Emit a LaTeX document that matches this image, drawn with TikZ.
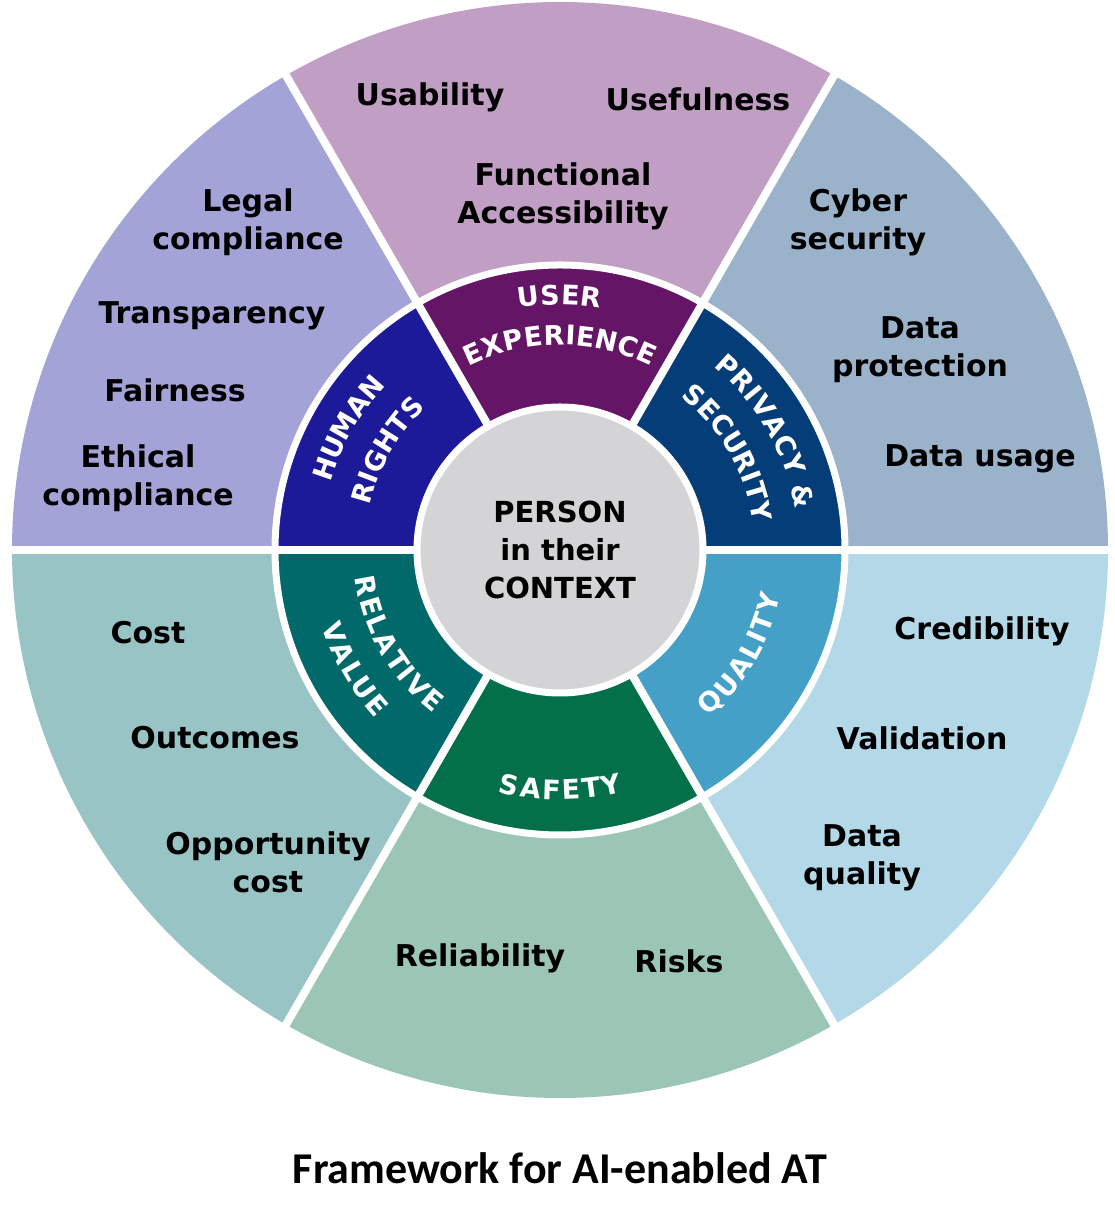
\documentclass[tikz,border=0pt]{standalone}
\usepackage{fontspec}
\setmainfont{DejaVu Sans}
\newfontfamily\titlefont{Carlito}
\usetikzlibrary{calc}
\definecolor{hrO}{HTML}{A3A3D8}\definecolor{hrI}{HTML}{1C1A99}
\definecolor{uxO}{HTML}{C19FC4}\definecolor{uxI}{HTML}{641566}
\definecolor{psO}{HTML}{9AB3CA}\definecolor{psI}{HTML}{053D78}
\definecolor{quO}{HTML}{B3D8E8}\definecolor{quI}{HTML}{45A0C8}
\definecolor{saO}{HTML}{9BC5B5}\definecolor{saI}{HTML}{03704A}
\definecolor{rvO}{HTML}{98C4C5}\definecolor{rvI}{HTML}{02696B}
\definecolor{ctr}{HTML}{D4D4D6}
\tikzset{olab/.style={font=\fontsize{30}{38}\selectfont\bfseries,align=center,text=black,inner sep=0pt},
 ilab/.style={font=\fontsize{27}{27}\selectfont\bfseries,text=white,inner sep=0pt,anchor=center}}
% #1 radius, #2 mid angle, #3 = 1 (tops outward) or -1 (tops inward), #4 list ch/width
\newcommand{\arcword}[4]{%
  \xdef\tot{0}%
  \foreach \ch/\w in {#4}{\pgfmathsetmacro{\t}{\tot+\w}\xdef\tot{\t}}%
  \xdef\acc{0}%
  \foreach \ch/\w in {#4}{%
    \pgfmathsetmacro{\pos}{\acc+\w/2-\tot/2}%
    \pgfmathsetmacro{\ang}{#2-#3*\pos/#1*180/pi}%
    \pgfmathsetmacro{\rot}{\ang-#3*90}%
    \node[ilab,rotate=\rot] at ($(C)+(\ang:#1)$) {\ch};
    \pgfmathsetmacro{\t}{\acc+\w}\xdef\acc{\t}%
  }}
\begin{document}
\begin{tikzpicture}[x=1pt,y=1pt]
\useasboundingbox (0,0) rectangle (1114,1206);
\coordinate (C) at (560,656);
\foreach \a/\oc/\ic in {0/psO/psI,60/uxO/uxI,120/hrO/hrI,180/rvO/rvI,240/saO/saI,300/quO/quI}{
  \fill[\oc] (C) -- ++(\a:548) arc (\a:\a+60:548) -- cycle;
  \fill[\ic] (C) -- ++(\a:285) arc (\a:\a+60:285) -- cycle;
}
\draw[white,line width=7] (C) circle (285);
\foreach \a in {0,60,...,300}{\draw[white,line width=8] (C) -- ++(\a:560);}
\node[circle,fill=ctr,draw=white,line width=7,minimum size=286,inner sep=0pt,
  font=\fontsize{29}{38}\selectfont\bfseries,align=center] (center) at (C) {PERSON\\in their\\CONTEXT};
% inner curved labels
\arcword{255}{90}{1}{U/22,S/21,E/20,R/22}
\arcword{215}{90}{1}{E/20,X/22,P/21,E/20,R/22,I/11,E/20,N/23,C/21,E/20}
\arcword{249}{150}{1}{H/23,U/22,M/26,A/23,N/23}
\arcword{205}{150}{1}{R/22,I/11,G/23,H/23,T/20,S/21}
\arcword{249}{30}{1}{P/21,R/22,I/11,V/22,A/23,C/21,Y/21,{}/10,\&/24}
\arcword{205}{30}{1}{S/21,E/20,C/21,U/22,R/22,I/11,T/20,Y/21}
\arcword{215}{-30}{-1}{Q/24,U/22,A/23,L/18,I/11,T/20,Y/21}
\arcword{240}{-90}{-1}{S/21,A/23,F/19,E/20,T/20,Y/21}
\arcword{197}{210}{-1}{R/22,E/20,L/18,A/23,T/20,I/11,V/22,E/20}
\arcword{240}{210}{-1}{V/22,A/23,L/18,U/22,E/20}
% outer labels
\node[olab] (usab) at (430,1109) {Usability};
\node[olab] (usef) at (698,1107) {Usefulness};
\node[olab] (func) at (563,1010) {Functional\\Accessibility};
\node[olab] (legal) at (248,984) {Legal\\compliance};
\node[olab] (trans) at (212,890) {Transparency};
\node[olab] (fair) at (175,816) {Fairness};
\node[olab] (eth) at (138,728) {Ethical\\compliance};
\node[olab] (cyber) at (858,984) {Cyber\\security};
\node[olab] (dprot) at (920,856) {Data\\protection};
\node[olab] (dusage) at (980,747) {Data usage};
\node[olab] (cost) at (148,573) {Cost};
\node[olab] (outc) at (215,468) {Outcomes};
\node[olab] (opp) at (268,344) {Opportunity\\cost};
\node[olab] (cred) at (982,575) {Credibility};
\node[olab] (valid) at (922,468) {Validation};
\node[olab] (dqual) at (862,348) {Data\\quality};
\node[olab] (rel) at (480,248) {Reliability};
\node[olab] (risk) at (679,245) {Risks};
\node[font=\titlefont\fontsize{44}{46}\selectfont\bfseries] (title) at (560,38) {Framework for AI-enabled AT};
\end{tikzpicture}
\end{document}
